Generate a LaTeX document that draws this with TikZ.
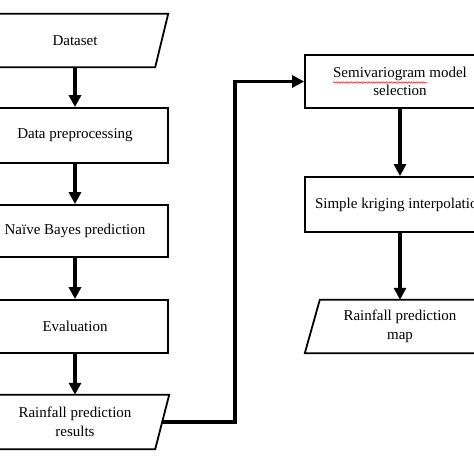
\documentclass[tikz,border=0pt]{standalone}
\usepackage{fontspec}
\setmainfont{Liberation Serif}
\usetikzlibrary{arrows.meta,decorations.pathmorphing}
\begin{document}
\begin{tikzpicture}[x=1pt,y=-1pt,
  box/.style={draw=black,line width=1.8pt,fill=white,minimum height=54pt,inner sep=0pt,align=center,font=\fontsize{15}{18.5}\selectfont},
  pbox/.style={minimum height=54pt,inner sep=0pt,align=center,font=\fontsize{15}{18.5}\selectfont},
  pline/.style={draw=black,line width=1.8pt,line join=miter},
  arr/.style={line width=3.5pt,-{Triangle[width=12pt,length=12pt]}}
]
\useasboundingbox (0,0) rectangle (474,474);
\clip (0,0) rectangle (474,474);
\fill[white] (0,0) rectangle (474,474);
% left column
\node[pbox,minimum width=173pt,minimum height=53pt] (ds) at (75,40.5) {Dataset};
\draw[pline] ([xshift=6.5pt]ds.north west) -- ([xshift=6.5pt]ds.north east) -- ([xshift=-6.5pt]ds.south east) -- ([xshift=-6.5pt]ds.south west) -- cycle;
\node[box,minimum width=186pt,minimum height=55pt] (pp) at (75,135.5) {Data preprocessing};
\node[box,minimum width=186pt,minimum height=52pt] (nb) at (75,231) {Naïve Bayes prediction};
\node[box,minimum width=186pt,minimum height=53pt] (ev) at (75,326.5) {Evaluation};
\node[pbox,minimum width=174pt,minimum height=54pt] (rs) at (75,422) {Rainfall prediction\\results};
\draw[pline] ([xshift=7pt]rs.north west) -- ([xshift=7pt]rs.north east) -- ([xshift=-7pt]rs.south east) -- ([xshift=-7pt]rs.south west) -- cycle;
% right column
\node[box,minimum width=190pt,minimum height=53pt] (sv) at (400,81.5) {Semivariogram model\\selection};
\draw[red,line width=0.5pt,decorate,decoration={snake,amplitude=0.7pt,segment length=2.5pt}] (333,82.5) -- (427,82.5);
\node[box,minimum width=190pt,minimum height=55pt] (sk) at (400,204.5) {Simple kriging interpolation};
\node[pbox,minimum width=175pt,minimum height=53pt] (mp) at (400,326.5) {Rainfall prediction\\map};
\draw[pline] ([xshift=7.5pt]mp.north west) -- ([xshift=7.5pt]mp.north east) -- ([xshift=-7.5pt]mp.south east) -- ([xshift=-7.5pt]mp.south west) -- cycle;
% connectors
\draw[arr] (ds.south) -- (pp.north);
\draw[arr] (pp.south) -- (nb.north);
\draw[arr] (nb.south) -- (ev.north);
\draw[arr] (ev.south) -- (rs.north);
\draw[arr] (sv.south) -- (sk.north);
\draw[arr] (sk.south) -- (mp.north);
\coordinate (c1) at (235,422);
\draw[arr,line join=miter] (rs.east) -- (c1) |- (sv.west);
\end{tikzpicture}
\end{document}
